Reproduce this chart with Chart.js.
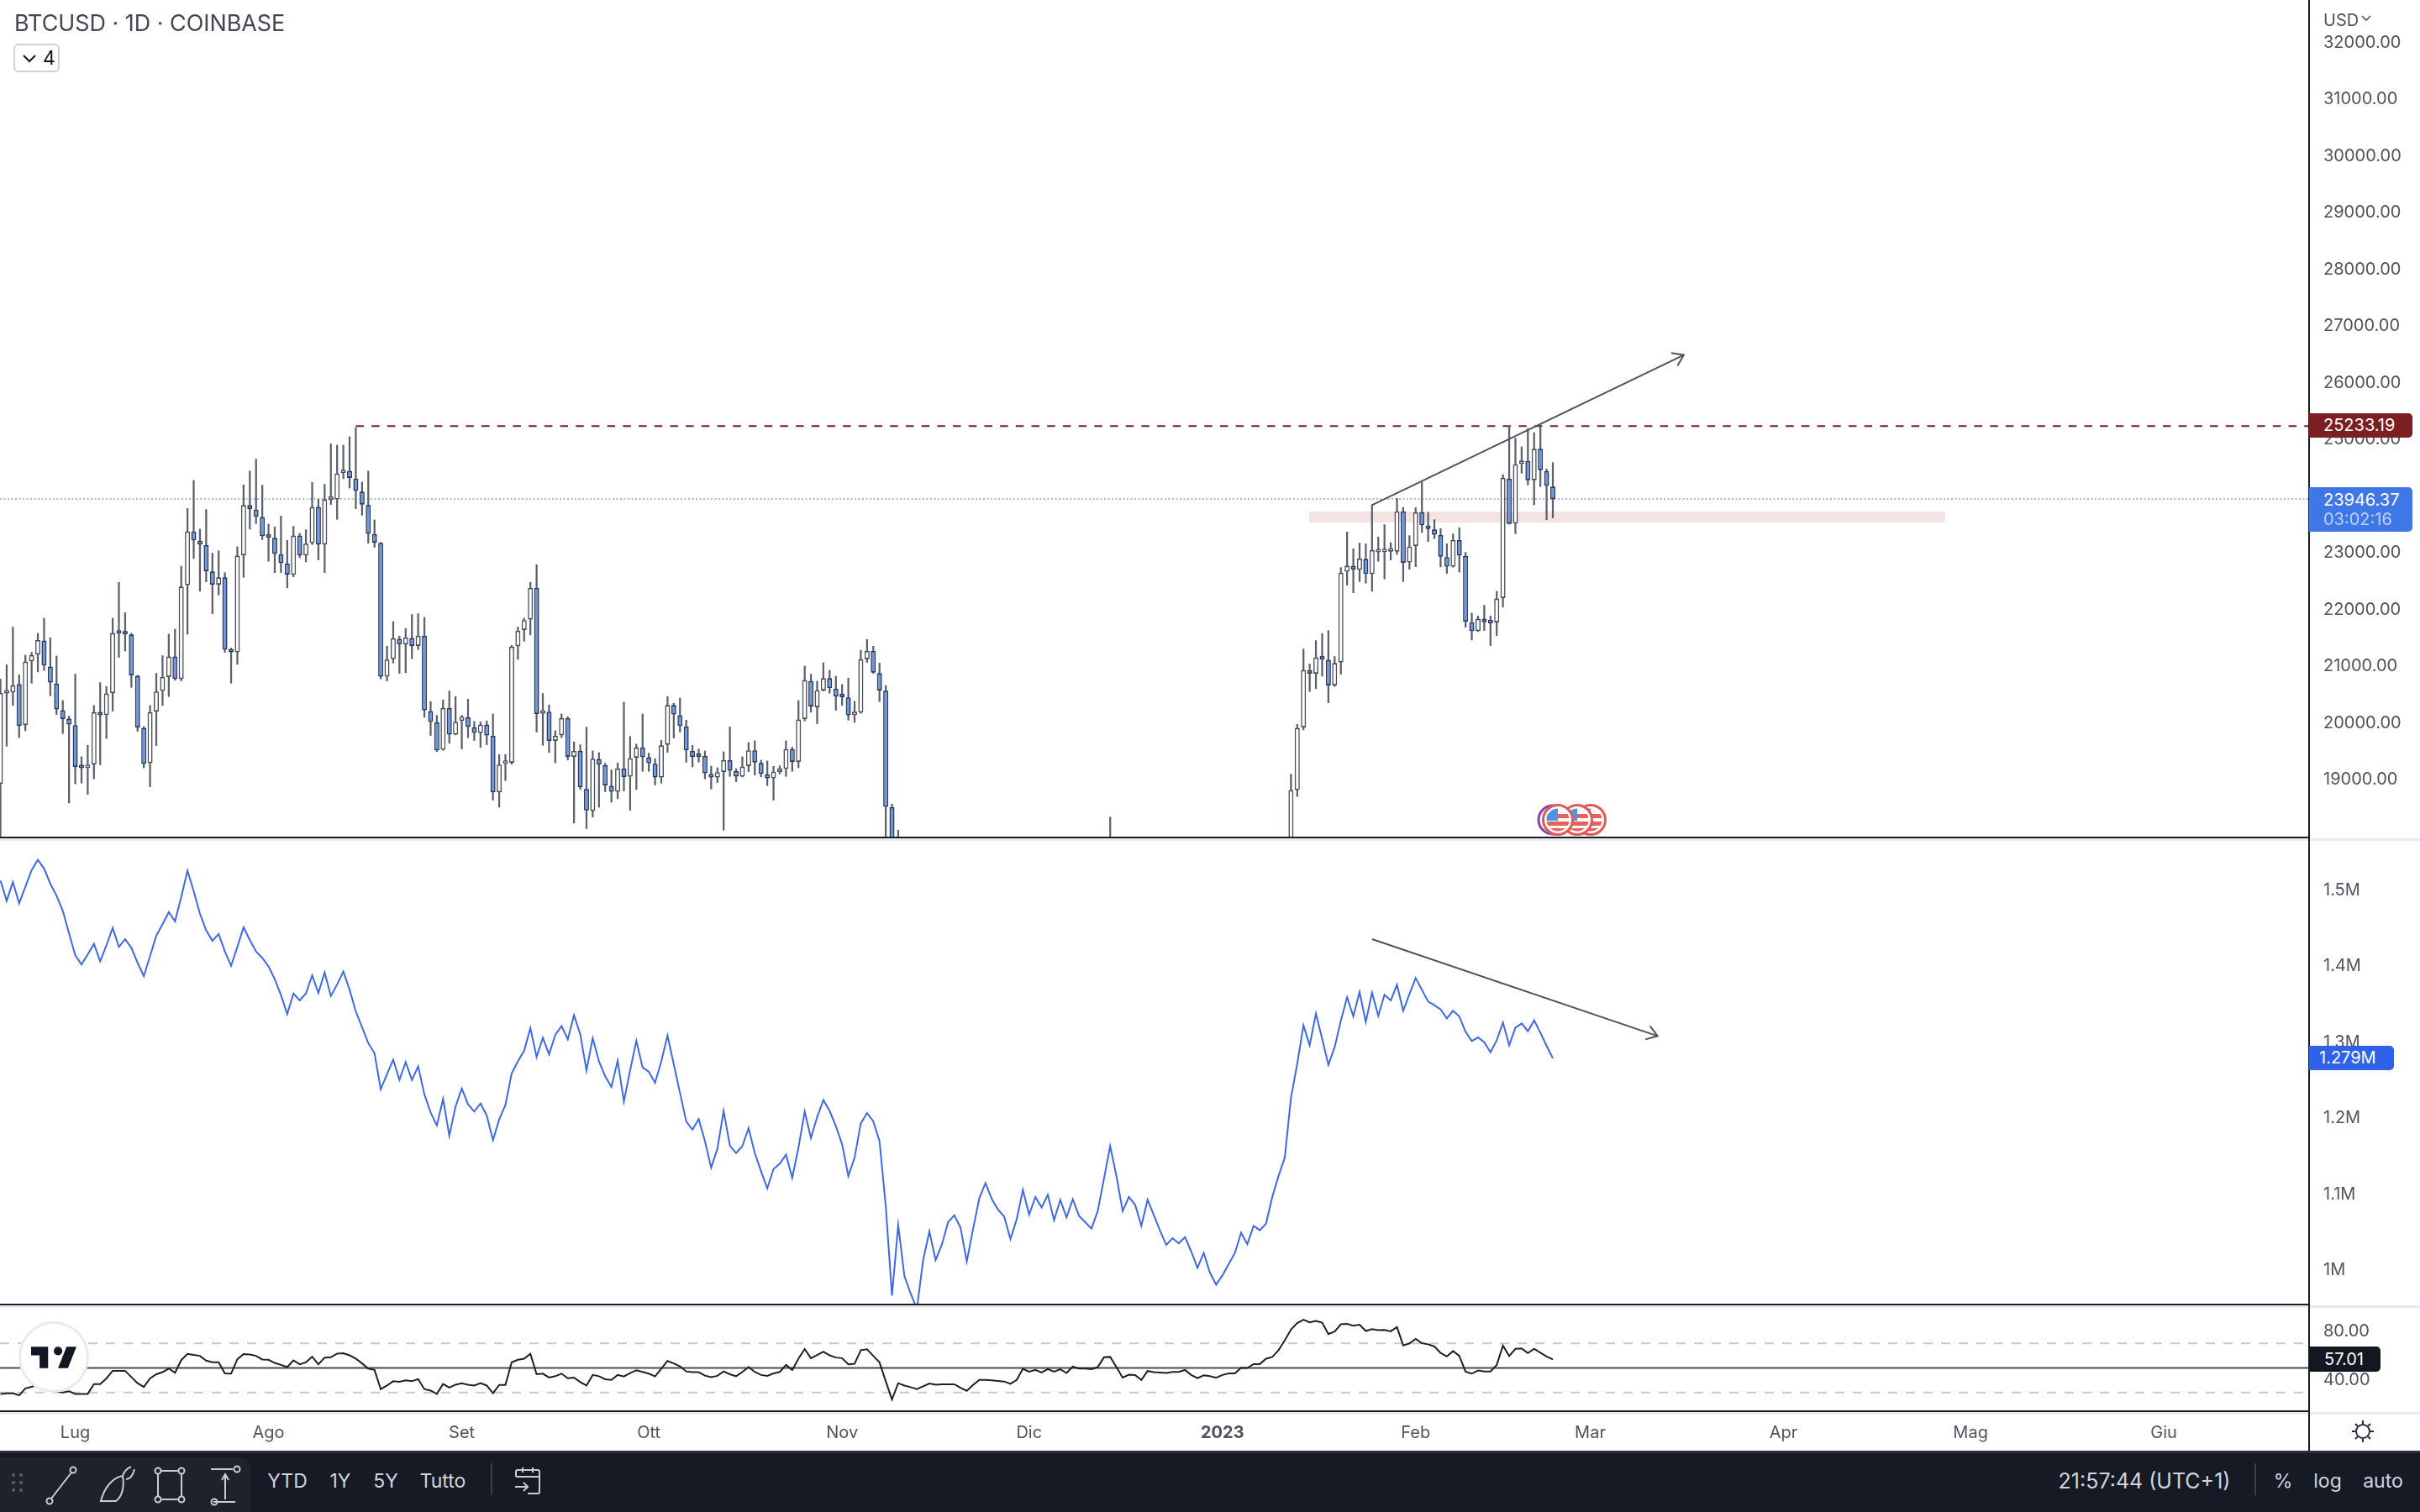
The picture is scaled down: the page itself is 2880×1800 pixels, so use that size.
<!DOCTYPE html>
<html>
<head>
<meta charset="utf-8">
<title>BTCUSD</title>
<script src="https://cdn.jsdelivr.net/npm/chart.js@4/dist/chart.umd.min.js"></script>
<style>
    html, body { margin: 0; padding: 0; background: #fff; }
    body { position: relative; width: 2880px; height: 1800px; overflow: hidden; font-family: Inter, sans-serif; }
    canvas { position: absolute; left: 0; top: 0; }
    .abs { position: absolute; white-space: nowrap; }
    .tag { position: absolute; left: 2748px; width: 123px; color: #fff; font-size: 20px; border-radius: 0 5px 5px 0; box-sizing: border-box; padding-left: 17px; }
    #toolbar { position: absolute; left: 0; top: 1727px; width: 2880px; height: 73px; background: #161a25; border-top: 3px solid #2a2e39; box-sizing: border-box; }
    #tools { position: absolute; left: 0; top: 5px; width: 298px; height: 65px; background: #1e222d; border-radius: 0 12px 0 0; }
    .bar-text { position: absolute; top: 1749px; color: #d1d4dc; font-size: 23px; line-height: 28px; transform: translateX(-50%); white-space: nowrap; }
    .bar-sep { position: absolute; top: 1742px; width: 2px; height: 38px; background: #3a3e4a; }
</style>
</head>
<body>
<canvas id="chart" width="2880" height="1800"></canvas>

<div class="abs" style="left:17px;top:12px;font-size:26.9px;line-height:30px;color:#434651;">BTCUSD · 1D · COINBASE</div>
<div class="abs" style="left:16px;top:52px;width:55px;height:34px;border:2px solid #d0d2d8;border-radius:6px;box-sizing:border-box;">
    <svg class="abs" style="left:9px;top:11px;" width="16" height="10"><path d="M1 1l7 7 7-7" fill="none" stroke="#131722" stroke-width="2"/></svg>
    <span class="abs" style="left:33px;top:1px;font-size:23px;line-height:28px;color:#131722;">4</span>
</div>
<div class="abs" style="left:2765px;top:12px;font-size:20px;line-height:24px;color:#50535e;background:#fff;">USD</div>
<svg class="abs" style="left:2810px;top:18px;" width="12" height="8"><path d="M1 1l5 5 5-5" fill="none" stroke="#50535e" stroke-width="1.6"/></svg>

<div class="tag" style="top:492px;height:29px;line-height:29px;background:#7b1f23;">25233.19</div>
<div class="tag" style="top:580px;height:53px;background:#3f78e6;">
    <div style="line-height:24px;margin-top:3px;">23946.37</div>
    <div style="line-height:22px;opacity:.65;">03:02:16</div>
</div>
<div class="tag" style="top:1245px;height:29px;line-height:29px;width:101px;background:#2f62e8;padding-left:12px;">1.279M</div>
<div class="tag" style="top:1603px;height:30px;line-height:30px;width:85px;background:#131722;padding-left:18px;">57.01</div>

<!-- event flags on the price pane -->
<svg class="abs" style="left:1820px;top:950px;" width="100" height="50" viewBox="1820 950 100 50">
    <defs>
        <g id="flag">
            <circle r="17.5" fill="#fff" stroke="#e05a57" stroke-width="3"/>
            <clipPath id="flagClip"><circle r="13.5"/></clipPath>
            <g clip-path="url(#flagClip)">
                <rect x="-14" y="-14" width="28" height="28" fill="#fff"/>
                <rect x="-14" y="-7" width="28" height="5" fill="#e8615c"/>
                <rect x="-14" y="2" width="28" height="5" fill="#e8615c"/>
                <rect x="-14" y="10" width="28" height="5" fill="#e8615c"/>
                <rect x="-14" y="-14" width="14" height="15" fill="#4f94e0"/>
            </g>
        </g>
    </defs>
    <circle cx="1848" cy="976" r="17" fill="#fff" stroke="#8a3fb0" stroke-width="3"/>
    <use href="#flag" x="1893" y="976"/>
    <use href="#flag" x="1877" y="976"/>
    <use href="#flag" x="1854" y="976"/>
</svg>

<!-- watermark -->
<div class="abs" style="left:22px;top:1573px;width:84px;height:85px;background:#fff;border:3px solid #e9eaef;border-radius:50%;box-sizing:border-box;">
    <svg class="abs" style="left:12px;top:27px;" width="54" height="26" viewBox="2 6 32 15"><path d="M14 6H2v6h6v9h6V6zm14 15h-7l6-15h7l-6 15zm-7-9a3 3 0 1 0 0-6 3 3 0 0 0 0 6z" fill="#131722"/></svg>
</div>

<!-- settings icon -->
<svg class="abs" style="left:2798px;top:1690px;" width="28" height="28" viewBox="-14 -14 28 28">
    <circle r="8" fill="none" stroke="#2a2e39" stroke-width="2"/>
    <path d="M0-13v4M0 9v4M-13 0h4M9 0h4M-9-9l3 3M6 6l3 3M-9 9l3-3M6-6l3-3" stroke="#2a2e39" stroke-width="2"/>
</svg>

<!-- bottom toolbar -->
<div id="toolbar"><div id="tools"></div></div>
<svg class="abs" style="left:0;top:1727px;" width="300" height="73" fill="none" stroke="#c9ccd4" stroke-width="2">
    <g fill="#5a5e6a" stroke="none">
        <circle cx="16" cy="29" r="2"/><circle cx="25" cy="29" r="2"/>
        <circle cx="16" cy="38" r="2"/><circle cx="25" cy="38" r="2"/>
        <circle cx="16" cy="47" r="2"/><circle cx="25" cy="47" r="2"/>
    </g>
    <circle cx="87" cy="23" r="3.5"/><circle cx="59" cy="60" r="3.5"/><path d="M85 26L61 57"/>
    <path d="M120 60h18c8-6 10-18 8-30-12 2-22 14-26 30zM146 30c2-6 5-9 10-11M150 34c4 0 8-4 10-12"/>
    <circle cx="188" cy="24" r="3.5"/><circle cx="216" cy="24" r="3.5"/><circle cx="188" cy="58" r="3.5"/><circle cx="216" cy="58" r="3.5"/>
    <path d="M191 24h22M188 27v28M216 27v28M191 58h22"/>
    <path d="M251 22h26M254 61h26M268 58V29M264 35l4-7 4 7"/>
    <circle cx="282" cy="22" r="3.5"/><circle cx="255" cy="61" r="3.5"/>
</svg>
<div class="bar-text" style="left:342px;">YTD</div>
<div class="bar-text" style="left:405px;">1Y</div>
<div class="bar-text" style="left:459px;">5Y</div>
<div class="bar-text" style="left:527px;">Tutto</div>
<div class="bar-sep" style="left:584px;"></div>
<svg class="abs" style="left:612px;top:1746px;" width="32" height="36" fill="none" stroke="#c9ccd4" stroke-width="2">
    <path d="M2 12V6a2 2 0 0 1 2-2h24a2 2 0 0 1 2 2v24a2 2 0 0 1-2 2H16M2 12h28M10 1v6M22 1v6M1 24h15M11 19l5 5-5 5"/>
</svg>
<div class="bar-text" style="left:2552px;font-size:25px;">21:57:44 (UTC+1)</div>
<div class="bar-sep" style="left:2683px;"></div>
<div class="bar-text" style="left:2717px;">%</div>
<div class="bar-text" style="left:2770px;">log</div>
<div class="bar-text" style="left:2836px;">auto</div>

<script>
// one candle per day from 19 Jun 2022
// candles between 11 Nov and 11 Jan sit below the visible price range
const openPrices = [
    18923,20518,20537,20681,19960,21085,21204,21451,20992,20690,
    20221,20073,19960,19214,19204,19264,20182,20137,20523,21599,
    21574,21559,20828,19910,19288,20197,20562,20809,21169,20774,
    22428,23376,23213,23134,22670,22438,22566,21283,21243,22956,
    23840,23761,23628,23287,23262,22971,22808,22611,23302,22951,
    23169,23806,23144,23934,23939,24403,24442,24309,24077,23840,
    23327,23174,20814,21125,21480,21382,21495,21357,21535,20207,
    20009,19525,20261,19792,20034,20098,19920,19821,19970,19772,
    18775,19278,19298,21352,21638,21821,22379,20162,20197,19683,
    19782,20083,19402,19505,18834,18443,19362,19253,18888,18784,
    19194,19051,19386,19564,19391,19278,19036,19613,20314,20132,
    19934,19505,19416,19416,19100,19036,19135,19342,19149,19051,
    19238,19515,19292,19090,19021,19135,19189,19539,19312,20068,
    20739,20275,20571,20788,20601,20467,20448,20137,20181,21124,
    21267,20877,20566,18512,15900,17600,17050,16810,16330,16620,
    16900,16660,16690,16700,16790,16280,15780,16220,16600,16600,
    16520,16460,16430,16220,16440,17160,16970,17090,16890,17110,
    16970,17090,16840,17230,17130,17130,17090,17210,17780,17810,
    17360,16630,16780,16740,16440,16900,16830,16830,16780,16840,
    16840,16920,16710,16550,16640,16610,16540,16620,16680,16680,
    16860,16830,16950,16940,17120,17180,17440,17950,18814,19920,
    20922,20868,21169,21110,20660,21065,22665,22769,22700,22892,
    22625,23006,23011,23020,23020,23731,22828,23119,23712,23474,
    23410,23312,22922,22754,23223,22946,21776,21618,21836,21771,
    21771,22201,24304,23514,24566,24620,24279,24832,24437,24166
];
const closePrices = [
    20527,20537,20661,19945,21080,21194,21461,21011,20710,20236,
    20068,19970,19224,19199,19254,20187,20132,20518,21584,21574,
    21559,20838,19920,19278,20187,20552,20809,21169,20774,22403,
    23376,23218,23144,22675,22438,22566,21293,21243,22947,23840,
    23771,23633,23292,23267,22981,22818,22616,23302,22951,23159,
    23806,23144,23939,23944,24398,24442,24319,24092,23850,23332,
    23179,20814,21115,21490,21382,21505,21357,21535,20221,20019,
    19515,20261,19792,20019,20108,19930,19821,19970,19777,18775,
    19264,19293,21342,21623,21811,22379,20157,20197,19683,19772,
    20083,19402,19505,18864,18454,19367,19263,18898,18784,19194,
    19046,19376,19564,19396,19288,19036,19603,20314,20147,19944,
    19515,19401,19401,19110,19036,19130,19342,19154,19051,19228,
    19515,19302,19100,19021,19139,19174,19539,19312,20058,20754,
    20290,20576,20788,20611,20467,20453,20132,20171,21119,21267,
    20887,20571,18517,15900,17600,17050,16810,16330,16620,16900,
    16660,16690,16700,16790,16280,15780,16220,16600,16600,16520,
    16460,16430,16220,16440,17160,16970,17090,16890,17110,16970,
    17090,16840,17230,17130,17130,17090,17210,17780,17810,17360,
    16630,16780,16740,16440,16900,16830,16830,16780,16840,16840,
    16920,16710,16550,16640,16610,16540,16620,16680,16680,16860,
    16830,16950,16940,17120,17180,17440,17950,18814,19910,20932,
    20868,21154,21120,20660,21055,22645,22769,22705,22897,22625,
    23045,23040,23060,23060,23731,22823,23109,23712,23484,23420,
    23317,22931,22754,23223,22951,21786,21618,21836,21776,21756,
    22191,24319,23509,24561,24620,24279,24832,24457,24181,23946
];
const highPrices = [
    20774,21021,21688,20848,21194,21243,21579,21846,21500,21179,
    20394,20118,20858,19402,19604,20305,20710,20641,21846,22478,
    21944,21579,20838,19935,20305,20873,21184,21564,21653,22764,
    23781,24275,23416,23761,22991,23035,22650,21317,23105,24196,
    24442,24650,24191,23504,23455,23648,23218,23465,23342,23406,
    24240,23949,24205,24921,24897,24897,25045,25208,24245,24442,
    23578,23184,21352,21786,21530,21663,21910,21925,21860,20374,
    20132,20404,20562,20463,20132,20419,20024,20019,20034,20157,
    19441,19441,21367,21688,21846,22478,22789,20518,20315,19861,
    20157,20108,19663,19614,19925,19505,19475,19288,19169,19292,
    20364,19761,19623,20156,19465,19367,19692,20463,20344,20438,
    20048,19603,19539,19505,19238,19209,19490,19929,19189,19401,
    19653,19683,19342,19327,19233,19243,19683,19574,20393,21001,
    20857,20734,21060,20927,20823,20675,20788,20379,21282,21470,
    21351,21055,20660,18567,18108,17700,17200,17000,16800,17000,
    17050,16780,16800,16880,16820,16300,16250,16680,16720,16630,
    16560,16500,16480,16520,17220,17220,17120,17180,17130,17180,
    17130,17100,17290,17300,17180,17240,17260,17970,18336,17840,
    17370,16800,16790,16760,16920,16960,16900,16850,16860,16860,
    16930,16950,16770,16640,16690,16650,16630,16760,16720,16780,
    16880,16880,16990,16960,17170,17260,17970,19095,19974,21302,
    21036,21450,21574,21628,21169,22739,23366,23070,23169,23159,
    23835,23277,23494,23178,23958,23800,23302,23795,24240,23712,
    23583,23425,23159,23331,23440,23006,21934,21885,22073,21885,
    22319,24378,25242,25020,24867,25193,25119,25250,24477,24590
];
const lowPrices = [
    17900,19589,20305,19738,19861,20700,20898,20922,20478,20147,
    19812,18587,18923,18938,18740,19012,19259,19723,20207,21154,
    21268,20626,19851,19204,18873,19599,20305,20463,20750,20740,
    21564,22897,22320,22487,21925,22255,21243,20700,21031,22566,
    23416,23514,23233,22848,22650,22650,22379,22576,22912,22838,
    23144,22873,22650,23850,23588,24304,24141,23776,23662,23169,
    23095,20774,20740,21056,20873,20883,21130,21293,20098,19777,
    19491,19515,19639,19787,19540,19738,19688,19565,19614,18637,
    18513,18982,19268,21120,21441,21549,19836,19604,19476,19293,
    19738,19343,18232,18824,18133,18340,18513,18784,18601,18661,
    18799,18458,18824,19144,19144,18903,18937,19480,19732,19836,
    19302,19223,19307,19011,18833,18947,18108,19056,18962,19046,
    19139,19080,19046,18893,18636,19095,19056,19144,19209,20033,
    20186,19984,20561,20522,20221,20305,20048,20008,20166,21065,
    20872,20374,17200,15600,15780,16900,16700,16300,16250,16580,
    16600,16400,16560,16620,16250,15750,15550,16200,16480,16430,
    16400,16380,16150,16190,16420,16860,16900,16860,16810,16880,
    16900,16800,16700,17080,17060,17090,16960,17100,17650,17280,
    16540,16600,16670,16350,16400,16760,16790,16750,16740,16790,
    16830,16600,16470,16470,16560,16480,16490,16600,16650,16650,
    16760,16780,16780,16910,17090,17150,17400,17900,18701,19876,
    20552,20601,20823,20354,20641,20858,22428,22295,22492,22463,
    22319,22848,22537,22872,22971,22492,22709,22754,23356,23198,
    23247,22749,22635,22744,22660,21687,21460,21608,21628,21362,
    21539,22043,23504,23336,24403,24195,23845,24166,23583,23613
];
// on balance volume, in thousands
const obvValues = [
    1512.9,1486.3,1510.9,1483.1,1504.9,1526.7,1540.2,1528.7,1508.9,1493,
    1473.2,1443.5,1414.5,1402.6,1415.7,1429.6,1406.6,1427.6,1450.6,1425.6,
    1435.6,1424.4,1404.6,1387.2,1413.7,1440.3,1455.4,1471.2,1459.3,1491.1,
    1526,1499,1469.3,1447.4,1433.6,1442.7,1419.7,1400.7,1425.6,1451.4,
    1434.8,1419.7,1411,1399.9,1383.2,1362.2,1337.2,1364.2,1355.1,1364.2,
    1388,1365,1392,1361,1376,1393.1,1369.3,1340.4,1319.8,1298.8,
    1285.7,1238.1,1257.9,1277,1250.4,1273.8,1250.4,1268.2,1231.4,1207.6,
    1190.5,1225.4,1177,1215.5,1239,1218.3,1208.8,1219.5,1203.6,1171.1,
    1198.4,1217.5,1259.1,1275,1288.9,1318.6,1280.9,1305.9,1284.1,1309.9,
    1321.4,1303.9,1335.6,1310.7,1263.1,1305.5,1275,1255.2,1241.3,1275.8,
    1222.2,1263.1,1301.9,1267,1261.1,1246.8,1275,1308.7,1271,1233.3,
    1195.7,1185,1198.8,1169.9,1135,1160,1209.6,1164,1154.1,1163.2,
    1187,1154.1,1130.2,1107.6,1133,1140.2,1152,1121.5,1161.2,1208.8,
    1173.9,1201.6,1223.8,1209.6,1189.7,1165.9,1123.9,1147.9,1193.2,1206.9,
    1195.8,1170,1084.8,966.5,1059.4,991.9,969.1,948.8,1013.3,1050.9,
    1013.3,1033.6,1063.1,1072.3,1055.7,1011.5,1053.9,1094.4,1114.7,1093.7,
    1079.7,1070.5,1041,1066.8,1105.5,1073,1096.3,1082.6,1099.2,1065.7,
    1092.6,1069.4,1093.3,1071.5,1063.1,1054.6,1077.8,1120.2,1163.4,1123.9,
    1077.8,1096.3,1086,1058.3,1092.6,1072.3,1052,1033.2,1042,1035.4,
    1043.5,1024.4,1003,1022.5,996.7,980.9,993,1007.8,1022.5,1049.1,
    1034.3,1058.3,1052.4,1061.2,1096.3,1123.9,1147.9,1227.2,1271.4,1322.3,
    1296.1,1337.8,1304.6,1270.3,1293.5,1328.5,1359.2,1334.1,1366.2,1326.7,
    1365.4,1334.8,1362.5,1355.1,1375.7,1341.5,1363.6,1384.6,1369.1,1353.6,
    1348.8,1343.3,1331.5,1341.5,1334.1,1313.8,1301.6,1306.4,1300.2,1286.9,
    1302.7,1326,1296.1,1319.3,1324.9,1314.5,1328.9,1312.7,1295.4,1279
];
const rsiValues = [
    28.9,29.3,29.5,27.7,33.4,34.6,36.4,34.6,32.8,31.1,
    30,31.1,28.9,28.9,28.9,36.9,36.9,41.5,47.7,47.7,
    47.7,42.6,37.6,34.6,41.5,44.9,46.6,49.5,46.1,56.4,
    61.5,60.6,59.9,56,54.6,54.6,45.6,45.4,57.1,61.3,
    61,59.9,56.9,56.7,54.1,52.5,50.7,56.2,53,54.6,
    59.2,53,58.5,58.7,61.7,62,60.3,57.6,53.7,49.5,
    48.4,32.8,35.7,39.2,38.7,39.9,39.2,41,32.8,31.6,
    28.9,36.9,34.1,36.4,37.6,36.4,35.7,37.6,35.7,29.5,
    36.2,36.2,54.6,56.7,57.6,61.5,44.9,45.4,42.2,43.3,
    45.4,41.7,42.2,38.5,35.7,44.3,43.3,40.8,40.3,44.3,
    43.1,45.9,48.2,46.8,45.4,43.1,49.5,55.7,53.7,51.4,
    47.2,46.6,46.6,43.8,42.6,43.6,47.2,44.9,43.3,46.8,
    50.7,46.8,44.3,43.6,45.6,46.8,52.5,48.4,57.6,65.4,
    58,60.6,63.3,60.3,58.5,58,53,53.4,64.5,65.2,
    59.9,54.6,39.2,24.3,37.6,35.7,34.4,32.8,35.1,37.4,
    36.4,36.7,36.7,36.7,33.9,31.4,36.2,40.3,40.3,39.9,
    39.4,39,37.1,40.3,49.3,47,48.4,46.3,49.1,47,
    48.9,45.9,51.1,49.5,49.5,49.1,50.7,58.7,59,50.7,
    42.2,44.5,44.3,40.3,47.5,46.6,46.3,45.9,46.8,46.8,
    48.4,44.3,41.7,44,43.3,42,44.3,45.6,45.6,50.2,
    50,53.2,53.2,57.6,59,64.5,72.5,81.3,86.6,89.3,
    87.2,88.4,87,77.6,79.7,85.6,85.9,84.5,85.2,80.1,
    81.7,80.8,81,79.9,83.3,68.4,70,73.7,70.2,69.3,
    67.5,62.2,59.4,63.8,59.9,47,45.4,47.9,47.2,47.2,
    52.5,68.2,59.7,65.6,65.9,62.2,65.6,62.4,59.4,57
];

const monthLabels = ['Lug', 'Ago', 'Set', 'Ott', 'Nov', 'Dic', '2023', 'Feb', 'Mar', 'Apr', 'Mag', 'Giu'];
const monthPositions = [12, 43, 74, 104, 135, 165, 196, 227, 255, 286, 316, 347];
const priceTicks = [19000, 20000, 21000, 22000, 23000, 24000, 25000, 26000, 27000, 28000, 29000, 30000, 31000, 32000];
const obvTicks = [1000, 1100, 1200, 1300, 1400, 1500];
const obvTickLabels = ['1M', '1.1M', '1.2M', '1.3M', '1.4M', '1.5M'];
const rsiTicks = [40, 80];

// drawings on the chart
const levelPrice = 25233.19;
const levelDays = [57, 370.3];
const lastPrice = 23946.37;
const zoneDays = [209.9, 311.9];
const zonePrices = [23534, 23726];
const priceTrendDays = [219.9, 270];
const priceTrendValues = [23835, 26488];
const obvTrendDays = [220, 265.8];
const obvTrendValues = [1435.8, 1308.3];
const rsiBands = [70, 50, 30];

const days = openPrices.map((v, i) => i);
const edgeDays = [-0.07, 370.3];
const priceRange = [17978, 32748];

// bodies under the range would get pushed back in by minBarLength, so leave them out
const bodyDays = days.filter(i => Math.max(openPrices[i], closePrices[i]) > priceRange[0]);

const TICK_COLOR = '#50535e';
const UP_FILL = '#ffffff';
const UP_EDGE = '#4b4f58';
const DOWN_FILL = '#6f98de';
const DOWN_EDGE = '#2c3a5c';

function flatLine(label, y, xs, axis, color, width, dash) {
    return {
        type: 'line', label, yAxisID: axis, order: 4,
        data: xs.map(x => ({ x, y })),
        borderColor: color, borderWidth: width, borderDash: dash,
        pointRadius: 0, tension: 0
    };
}

function trendLine(label, xs, ys, axis) {
    return {
        type: 'line', label, yAxisID: axis, order: 0,
        data: xs.map((x, i) => ({ x, y: ys[i] })),
        borderColor: '#50535a', borderWidth: 2,
        pointRadius: 0, tension: 0
    };
}

const rsiBandLines = rsiBands.map(v =>
    v === 50
        ? flatLine('RSI 50', v, edgeDays, 'yRsi', '#4a4d55', 2, [])
        : flatLine('RSI ' + v, v, edgeDays, 'yRsi', '#c6c8cc', 2, [11, 10])
);

// pink zone goes under the candles, axis lines and arrow heads go on top
const chartDrawings = {
    id: 'chartDrawings',
    beforeDatasetsDraw(chart) {
        const { x, yPrice } = chart.scales;
        const ctx = chart.ctx;
        const top = yPrice.getPixelForValue(zonePrices[1]);
        const bottom = yPrice.getPixelForValue(zonePrices[0]);
        const left = x.getPixelForValue(zoneDays[0]);
        const right = x.getPixelForValue(zoneDays[1]);
        ctx.save();
        ctx.fillStyle = '#f5e2e2';
        ctx.fillRect(left, top, right - left, bottom - top);
        ctx.restore();
    },
    afterDatasetsDraw(chart) {
        const { x, yPrice, yObv, yRsi } = chart.scales;
        const ctx = chart.ctx;
        const axisX = x.right;

        ctx.save();
        [yPrice.bottom, yObv.bottom, yRsi.bottom].forEach(y => {
            ctx.fillStyle = '#e8ebf2';
            ctx.fillRect(0, y + 1, 2880, 3);
            ctx.fillStyle = '#1b1e28';
            ctx.fillRect(0, y - 1, axisX, 2);
        });
        ctx.fillStyle = '#1b1e28';
        ctx.fillRect(axisX - 1, 0, 2, 1727);

        // open arrow heads
        [[priceTrendDays, priceTrendValues, yPrice], [obvTrendDays, obvTrendValues, yObv]].forEach(([xs, ys, scale]) => {
            const x0 = x.getPixelForValue(xs[0]);
            const y0 = scale.getPixelForValue(ys[0]);
            const x1 = x.getPixelForValue(xs[1]);
            const y1 = scale.getPixelForValue(ys[1]);
            const angle = Math.atan2(y1 - y0, x1 - x0);
            ctx.strokeStyle = '#50535a';
            ctx.lineWidth = 2;
            ctx.beginPath();
            ctx.moveTo(x1 - 15 * Math.cos(angle - 0.6), y1 - 15 * Math.sin(angle - 0.6));
            ctx.lineTo(x1, y1);
            ctx.lineTo(x1 - 15 * Math.cos(angle + 0.6), y1 - 15 * Math.sin(angle + 0.6));
            ctx.stroke();
        });
        ctx.restore();
    }
};

function rightAxis(weight, min, max, ticks, label) {
    return {
        type: 'linear',
        position: 'right',
        stack: 'panes',
        stackWeight: weight,
        min, max,
        grid: { display: false, drawTicks: false },
        border: { display: false },
        afterFit(scale) {
            scale.width = 132;
            // no room kept for the first and last label, panes must fill the height
            scale.paddingTop = 0;
            scale.paddingBottom = 0;
        },
        afterBuildTicks(scale) { scale.ticks = ticks.map(value => ({ value })); },
        ticks: {
            autoSkip: false,
            padding: 17,
            color: TICK_COLOR,
            font: { family: 'Inter', size: 20 },
            callback: label
        }
    };
}

new Chart(document.getElementById('chart'), {
    type: 'bar',
    data: {
        datasets: [
            flatLine('Level', levelPrice, levelDays, 'yPrice', '#7b1f23', 2, [9.5, 9.2]),
            flatLine('Last price', lastPrice, edgeDays, 'yPrice', '#a9b9e4', 2, [2, 2.5]),
            {
                label: 'Wicks', yAxisID: 'yPrice', order: 3, grouped: false,
                data: days.map(i => ({ x: i, y: [lowPrices[i], highPrices[i]] })),
                backgroundColor: '#5c6069', barThickness: 1.6
            },
            {
                label: 'Bodies', yAxisID: 'yPrice', order: 2, grouped: false,
                data: bodyDays.map(i => ({ x: i, y: [openPrices[i], closePrices[i]] })),
                backgroundColor: bodyDays.map(i => closePrices[i] >= openPrices[i] ? UP_FILL : DOWN_FILL),
                borderColor: bodyDays.map(i => closePrices[i] >= openPrices[i] ? UP_EDGE : DOWN_EDGE),
                borderWidth: 1.6, borderSkipped: false, barThickness: 6,
                minBarLength: 4, inflateAmount: 0
            },
            trendLine('Price trend', priceTrendDays, priceTrendValues, 'yPrice'),
            {
                type: 'line', label: 'OBV', yAxisID: 'yObv', order: 1,
                data: days.map(i => ({ x: i, y: obvValues[i] })),
                borderColor: '#3f69e3', borderWidth: 2, pointRadius: 0, tension: 0
            },
            trendLine('OBV trend', obvTrendDays, obvTrendValues, 'yObv'),
            ...rsiBandLines,
            {
                type: 'line', label: 'RSI', yAxisID: 'yRsi', order: 1,
                data: days.map(i => ({ x: i, y: rsiValues[i] })),
                borderColor: '#1d2028', borderWidth: 2, pointRadius: 0, tension: 0
            }
        ]
    },
    options: {
        responsive: false,
        animation: false,
        devicePixelRatio: 1,
        events: [],
        layout: { padding: { bottom: 73 } },
        plugins: { legend: { display: false }, tooltip: { enabled: false } },
        scales: {
            x: {
                type: 'linear',
                offset: false,
                min: edgeDays[0],
                max: edgeDays[1],
                grid: { display: false, drawTicks: false },
                border: { display: false },
                afterFit(scale) { scale.height = 47; },
                afterBuildTicks(scale) { scale.ticks = monthPositions.map(value => ({ value })); },
                ticks: {
                    autoSkip: false,
                    maxRotation: 0,
                    padding: 14,
                    color: TICK_COLOR,
                    font: ctx => ({ family: 'Inter', size: 20, weight: ctx.index === 6 ? 'bold' : 'normal' }),
                    callback: (value) => monthLabels[monthPositions.indexOf(value)]
                }
            },
            yPrice: rightAxis(997, priceRange[0], priceRange[1], priceTicks, v => v.toFixed(2)),
            yObv: rightAxis(556, 954.7, 1569.7, obvTicks, v => obvTickLabels[obvTicks.indexOf(v)]),
            yRsi: rightAxis(127, 14.8, 101.7, rsiTicks, v => v.toFixed(2))
        }
    },
    plugins: [chartDrawings]
});
</script>
</body>
</html>
